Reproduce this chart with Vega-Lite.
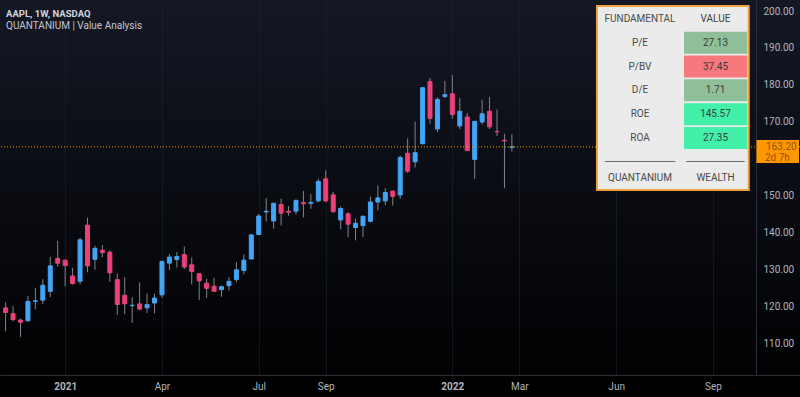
{
  "$schema": "https://vega.github.io/schema/vega-lite/v6.json",
  "width": 800,
  "height": 375,
  "autosize": {"type": "none"},
  "padding": {"left": 0, "top": 0, "right": 0, "bottom": 22},
  "background": "#000000",
  "config": {
    "font": "Roboto",
    "view": {"stroke": null, "fill": {"gradient": "linear", "x1": 0, "y1": 0, "x2": 0, "y2": 1, "stops": [{"offset": 0, "color": "#141824"}, {"offset": 1, "color": "#010102"}]}},
    "axis": {"labelFont": "Roboto", "labelColor": "#b2b5be", "labelFontSize": 10}
  },
  "title": {
    "text": "AAPL, 1W, NASDAQ",
    "subtitle": "QUANTANIUM | Value Analysis",
    "anchor": "start",
    "frame": "group",
    "orient": "top",
    "offset": -31,
    "dx": 6,
    "font": "Roboto",
    "fontSize": 9.5,
    "fontWeight": "bold",
    "color": "#d1d4dc",
    "subtitleFont": "Roboto",
    "subtitleFontSize": 10,
    "subtitleColor": "#c3c6ce",
    "subtitlePadding": 3
  },
  "datasets": {
    "candles": [
      {"date": "2020-11-09", "open": 119.60, "high": 121.08, "low": 113.28, "close": 118.37},
      {"date": "2020-11-16", "open": 118.04, "high": 120.09, "low": 115.94, "close": 116.47},
      {"date": "2020-11-23", "open": 116.31, "high": 116.74, "low": 111.75, "close": 115.72},
      {"date": "2020-11-30", "open": 116.10, "high": 122.86, "low": 115.94, "close": 121.34},
      {"date": "2020-12-07", "open": 121.40, "high": 125.01, "low": 119.26, "close": 121.50},
      {"date": "2020-12-14", "open": 121.69, "high": 127.36, "low": 120.64, "close": 125.72},
      {"date": "2020-12-21", "open": 124.09, "high": 133.41, "low": 122.53, "close": 130.99},
      {"date": "2020-12-28", "open": 132.99, "high": 137.76, "low": 130.74, "close": 131.70},
      {"date": "2021-01-04", "open": 132.53, "high": 132.62, "low": 125.44, "close": 131.07},
      {"date": "2021-01-11", "open": 128.23, "high": 130.47, "low": 125.92, "close": 126.19},
      {"date": "2021-01-18", "open": 126.83, "high": 138.63, "low": 126.00, "close": 138.04},
      {"date": "2021-01-25", "open": 142.01, "high": 144.01, "low": 129.24, "close": 130.98},
      {"date": "2021-02-01", "open": 132.75, "high": 136.40, "low": 129.96, "close": 135.74},
      {"date": "2021-02-08", "open": 135.22, "high": 136.64, "low": 133.37, "close": 134.57},
      {"date": "2021-02-15", "open": 134.69, "high": 135.20, "low": 126.65, "close": 129.10},
      {"date": "2021-02-22", "open": 127.25, "high": 128.95, "low": 117.69, "close": 120.54},
      {"date": "2021-03-01", "open": 123.01, "high": 127.96, "low": 117.91, "close": 120.70},
      {"date": "2021-03-08", "open": 120.21, "high": 122.48, "low": 115.52, "close": 120.31},
      {"date": "2021-03-15", "open": 120.69, "high": 126.46, "low": 118.97, "close": 119.28},
      {"date": "2021-03-22", "open": 119.62, "high": 123.50, "low": 118.21, "close": 120.49},
      {"date": "2021-03-29", "open": 120.93, "high": 123.44, "low": 118.15, "close": 122.27},
      {"date": "2021-04-05", "open": 123.13, "high": 132.25, "low": 122.34, "close": 132.21},
      {"date": "2021-04-12", "open": 131.73, "high": 134.20, "low": 129.85, "close": 133.36},
      {"date": "2021-04-19", "open": 132.72, "high": 134.72, "low": 130.52, "close": 133.52},
      {"date": "2021-04-26", "open": 134.03, "high": 136.26, "low": 130.11, "close": 130.68},
      {"date": "2021-05-03", "open": 131.26, "high": 133.27, "low": 125.95, "close": 129.44},
      {"date": "2021-05-10", "open": 128.86, "high": 128.99, "low": 121.73, "close": 126.91},
      {"date": "2021-05-17", "open": 126.28, "high": 127.46, "low": 122.34, "close": 124.90},
      {"date": "2021-05-24", "open": 125.47, "high": 127.77, "low": 124.02, "close": 124.08},
      {"date": "2021-05-31", "open": 124.55, "high": 125.62, "low": 122.61, "close": 125.35},
      {"date": "2021-06-07", "open": 125.63, "high": 127.91, "low": 124.30, "close": 126.81},
      {"date": "2021-06-14", "open": 127.28, "high": 131.99, "low": 126.53, "close": 129.91},
      {"date": "2021-06-21", "open": 129.75, "high": 134.07, "low": 128.66, "close": 132.54},
      {"date": "2021-06-28", "open": 132.84, "high": 139.41, "low": 132.78, "close": 139.37},
      {"date": "2021-07-05", "open": 139.47, "high": 145.03, "low": 139.30, "close": 144.49},
      {"date": "2021-07-12", "open": 145.59, "high": 149.36, "low": 143.02, "close": 145.77},
      {"date": "2021-07-19", "open": 143.14, "high": 148.09, "low": 141.07, "close": 147.93},
      {"date": "2021-07-26", "open": 147.64, "high": 149.19, "low": 141.93, "close": 145.24},
      {"date": "2021-08-02", "open": 145.74, "high": 147.21, "low": 144.56, "close": 145.52},
      {"date": "2021-08-09", "open": 145.80, "high": 149.03, "low": 144.90, "close": 148.69},
      {"date": "2021-08-16", "open": 148.13, "high": 151.26, "low": 144.10, "close": 147.78},
      {"date": "2021-08-23", "open": 147.90, "high": 150.45, "low": 146.43, "close": 148.19},
      {"date": "2021-08-30", "open": 148.59, "high": 154.56, "low": 148.20, "close": 153.88},
      {"date": "2021-09-06", "open": 154.55, "high": 156.83, "low": 148.29, "close": 148.56},
      {"date": "2021-09-13", "open": 150.22, "high": 151.01, "low": 145.36, "close": 145.66},
      {"date": "2021-09-20", "open": 143.41, "high": 147.07, "low": 140.88, "close": 146.52},
      {"date": "2021-09-27", "open": 145.07, "high": 145.56, "low": 138.73, "close": 142.26},
      {"date": "2021-10-04", "open": 141.37, "high": 143.82, "low": 137.89, "close": 142.51},
      {"date": "2021-10-11", "open": 141.88, "high": 144.50, "low": 138.82, "close": 144.44},
      {"date": "2021-10-18", "open": 143.06, "high": 149.77, "low": 142.77, "close": 148.28},
      {"date": "2021-10-25", "open": 148.27, "high": 152.75, "low": 146.01, "close": 149.39},
      {"date": "2021-11-01", "open": 148.58, "high": 152.01, "low": 147.40, "close": 150.87},
      {"date": "2021-11-08", "open": 151.22, "high": 151.38, "low": 147.29, "close": 149.80},
      {"date": "2021-11-15", "open": 150.18, "high": 160.81, "low": 149.15, "close": 160.34},
      {"date": "2021-11-22", "open": 161.47, "high": 165.49, "low": 156.16, "close": 156.61},
      {"date": "2021-11-29", "open": 159.17, "high": 170.08, "low": 157.60, "close": 161.63},
      {"date": "2021-12-06", "open": 164.08, "high": 179.40, "low": 163.81, "close": 179.22},
      {"date": "2021-12-13", "open": 180.89, "high": 181.90, "low": 169.47, "close": 170.92},
      {"date": "2021-12-20", "open": 168.06, "high": 176.62, "low": 167.25, "close": 176.05},
      {"date": "2021-12-27", "open": 176.86, "high": 181.10, "low": 176.38, "close": 177.34},
      {"date": "2022-01-03", "open": 177.60, "high": 182.71, "low": 170.81, "close": 171.95},
      {"date": "2022-01-10", "open": 168.86, "high": 176.39, "low": 167.95, "close": 172.85},
      {"date": "2022-01-17", "open": 171.29, "high": 172.32, "low": 162.09, "close": 162.20},
      {"date": "2022-01-24", "open": 159.82, "high": 170.13, "low": 154.50, "close": 170.11},
      {"date": "2022-01-31", "open": 169.94, "high": 176.01, "low": 169.29, "close": 172.17},
      {"date": "2022-02-07", "open": 172.86, "high": 176.65, "low": 168.04, "close": 168.64},
      {"date": "2022-02-14", "open": 167.37, "high": 173.34, "low": 166.19, "close": 167.30},
      {"date": "2022-02-21", "open": 164.98, "high": 166.69, "low": 152.00, "close": 164.85},
      {"date": "2022-02-28", "open": 163.06, "high": 166.60, "low": 161.97, "close": 163.20}
    ],
    "last": [{"price": 163.20, "label": "163.20", "countdown": "2d 7h"}],
    "fundamentals": [
      {"row": 0, "metric": "FUNDAMENTAL", "value": "VALUE", "rating": "header"},
      {"row": 1, "metric": "P/E", "value": "27.13", "rating": "fair"},
      {"row": 2, "metric": "P/BV", "value": "37.45", "rating": "poor"},
      {"row": 3, "metric": "D/E", "value": "1.71", "rating": "fair"},
      {"row": 4, "metric": "ROE", "value": "145.57", "rating": "strong"},
      {"row": 5, "metric": "ROA", "value": "27.35", "rating": "strong"},
      {"row": 6, "metric": "────────────", "value": "──────────", "rating": "divider"},
      {"row": 7, "metric": "QUANTANIUM", "value": "WEALTH", "rating": "footer"}
    ]
  },
  "layer": [
    {
      "data": {"name": "candles"},
      "layer": [
        {
          "mark": {"type": "rule", "color": "#80848e", "strokeWidth": 1},
          "encoding": {
            "x": {
              "field": "date", "type": "temporal",
              "scale": {"type": "utc", "domain": [1604831875000, 1669001673000]},
              "axis": {
                "title": null,
                "values": [
                  {"year": 2021, "month": 1, "date": 4, "utc": true},
                  {"year": 2021, "month": 4, "date": 5, "utc": true},
                  {"year": 2021, "month": 7, "date": 5, "utc": true},
                  {"year": 2021, "month": 9, "date": 6, "utc": true},
                  {"year": 2022, "month": 1, "date": 3, "utc": true},
                  {"year": 2022, "month": 3, "date": 7, "utc": true},
                  {"year": 2022, "month": 6, "date": 6, "utc": true},
                  {"year": 2022, "month": 9, "date": 5, "utc": true}
                ],
                "labelExpr": "utcmonth(datum.value) == 0 ? utcFormat(datum.value, '%Y') : utcFormat(datum.value, '%b')",
                "labelFontWeight": {"condition": {"test": "utcmonth(datum.value) == 0", "value": "bold"}, "value": "normal"},
                "grid": true,
                "gridColor": "#1e222d",
                "gridOpacity": 0.6,
                "ticks": false,
                "domainColor": "#2a2e39",
                "labelPadding": 6,
                "labelFlush": false,
                "labelOverlap": false
              }
            },
            "y": {
              "field": "low", "type": "quantitative",
              "scale": {"domain": [101.43, 202.98], "nice": false, "zero": false},
              "axis": {
                "title": null,
                "orient": "right",
                "offset": -44,
                "values": [110, 120, 130, 140, 150, 170, 180, 190, 200],
                "format": ".2f",
                "ticks": false,
                "grid": false,
                "labelPadding": 7,
                "labelAlign": "left",
                "domainColor": "#2a2e39"
              }
            },
            "y2": {"field": "high"}
          }
        },
        {
          "mark": {"type": "bar", "width": 4, "strokeWidth": 1},
          "encoding": {
            "x": {"field": "date", "type": "temporal"},
            "y": {"field": "open", "type": "quantitative"},
            "y2": {"field": "close"},
            "color": {"condition": {"test": "datum.close >= datum.open", "value": "#42a5f5"}, "value": "#ec407a"},
            "stroke": {"condition": {"test": "datum.close >= datum.open", "value": "#42a5f5"}, "value": "#ec407a"}
          }
        },
        {
          "data": {"name": "last"},
          "mark": {"type": "rule", "color": "#ff9800", "strokeWidth": 1, "strokeDash": [1, 2]},
          "encoding": {"y": {"field": "price", "type": "quantitative"}}
        },
        {
          "data": {"name": "last"},
          "mark": {"type": "rule", "color": "#ff9800", "strokeWidth": 23, "strokeCap": "butt", "yOffset": 4.5},
          "encoding": {
            "y": {"field": "price", "type": "quantitative"},
            "x": {"value": {"expr": "width - 43.5"}},
            "x2": {"value": {"expr": "width - 1"}}
          }
        },
        {
          "data": {"name": "last"},
          "mark": {"type": "text", "align": "left", "baseline": "middle", "fontSize": 10, "font": "Roboto", "color": "#94500a", "dy": -0.3},
          "encoding": {
            "y": {"field": "price", "type": "quantitative"},
            "x": {"value": {"expr": "width - 34"}},
            "text": {"field": "label"}
          }
        },
        {
          "data": {"name": "last"},
          "mark": {"type": "text", "align": "left", "baseline": "middle", "fontSize": 10, "font": "Roboto", "color": "#94500a", "dy": 11.3},
          "encoding": {
            "y": {"field": "price", "type": "quantitative"},
            "x": {"value": {"expr": "width - 35"}},
            "text": {"field": "countdown"}
          }
        }
      ]
    },
    {
      "data": {"name": "fundamentals"},
      "layer": [
        {
          "transform": [{"filter": "datum.row == 0"}],
          "mark": {"type": "rect", "fill": "#ebebeb", "stroke": "#f0a13c", "strokeWidth": 2},
          "encoding": {
            "x": {"datum": -0.57, "type": "quantitative", "scale": {"domain": [0, 1], "range": [640, 715.5], "nice": false, "zero": false}, "axis": null},
            "x2": {"datum": 1.44},
            "y": {"datum": -0.55, "type": "quantitative", "scale": {"domain": [0, 6], "range": [19, 161.7], "nice": false, "zero": false}, "axis": null},
            "y2": {"datum": 7.19}
          }
        },
        {
          "transform": [{"filter": "datum.row >= 1 && datum.row <= 5"}],
          "mark": {"type": "rule", "strokeWidth": 22, "strokeCap": "butt"},
          "encoding": {
            "x": {"datum": 0.583, "type": "quantitative", "scale": {"domain": [0, 1], "range": [640, 715.5], "nice": false, "zero": false}, "axis": null},
            "x2": {"datum": 1.421},
            "y": {"field": "row", "type": "quantitative", "scale": {"domain": [0, 6], "range": [19, 161.7], "nice": false, "zero": false}, "axis": null},
            "stroke": {"field": "rating", "type": "nominal", "scale": {"domain": ["fair", "poor", "strong"], "range": ["#8fbf98", "#f5787d", "#42f0aa"]}, "legend": null}
          }
        },
        {
          "transform": [{"filter": "datum.row <= 5"}],
          "mark": {"type": "text", "align": "center", "baseline": "middle", "fontSize": 10, "font": "Roboto", "color": "#4a4a4a"},
          "encoding": {
            "x": {"datum": 0, "type": "quantitative", "scale": {"domain": [0, 1], "range": [640, 715.5], "nice": false, "zero": false}, "axis": null},
            "y": {"field": "row", "type": "quantitative", "scale": {"domain": [0, 6], "range": [19, 161.7], "nice": false, "zero": false}, "axis": null},
            "text": {"field": "metric"}
          }
        },
        {
          "transform": [{"filter": "datum.row <= 5"}],
          "mark": {"type": "text", "align": "center", "baseline": "middle", "fontSize": 10, "font": "Roboto", "color": "#3c3c3c"},
          "encoding": {
            "x": {"datum": 1, "type": "quantitative", "scale": {"domain": [0, 1], "range": [640, 715.5], "nice": false, "zero": false}, "axis": null},
            "y": {"field": "row", "type": "quantitative", "scale": {"domain": [0, 6], "range": [19, 161.7], "nice": false, "zero": false}, "axis": null},
            "text": {"field": "value"}
          }
        },
        {
          "transform": [{"filter": "datum.row == 6"}],
          "mark": {"type": "text", "align": "center", "baseline": "middle", "fontSize": 9.7, "font": "DejaVu Sans Mono", "color": "#555555"},
          "encoding": {
            "x": {"datum": 0, "type": "quantitative", "scale": {"domain": [0, 1], "range": [640, 715.5], "nice": false, "zero": false}, "axis": null},
            "y": {"field": "row", "type": "quantitative", "scale": {"domain": [0, 6], "range": [19, 161.7], "nice": false, "zero": false}, "axis": null},
            "text": {"field": "metric"}
          }
        },
        {
          "transform": [{"filter": "datum.row == 6"}],
          "mark": {"type": "text", "align": "center", "baseline": "middle", "fontSize": 9.7, "font": "DejaVu Sans Mono", "color": "#555555"},
          "encoding": {
            "x": {"datum": 1, "type": "quantitative", "scale": {"domain": [0, 1], "range": [640, 715.5], "nice": false, "zero": false}, "axis": null},
            "y": {"field": "row", "type": "quantitative", "scale": {"domain": [0, 6], "range": [19, 161.7], "nice": false, "zero": false}, "axis": null},
            "text": {"field": "value"}
          }
        },
        {
          "transform": [{"filter": "datum.row == 7"}],
          "mark": {"type": "text", "align": "center", "baseline": "middle", "fontSize": 10, "font": "Roboto", "color": "#4a4a4a", "dy": -7},
          "encoding": {
            "x": {"datum": 0, "type": "quantitative", "scale": {"domain": [0, 1], "range": [640, 715.5], "nice": false, "zero": false}, "axis": null},
            "y": {"field": "row", "type": "quantitative", "scale": {"domain": [0, 6], "range": [19, 161.7], "nice": false, "zero": false}, "axis": null},
            "text": {"field": "metric"}
          }
        },
        {
          "transform": [{"filter": "datum.row == 7"}],
          "mark": {"type": "text", "align": "center", "baseline": "middle", "fontSize": 10, "font": "Roboto", "color": "#4a4a4a", "dy": -7},
          "encoding": {
            "x": {"datum": 1, "type": "quantitative", "scale": {"domain": [0, 1], "range": [640, 715.5], "nice": false, "zero": false}, "axis": null},
            "y": {"field": "row", "type": "quantitative", "scale": {"domain": [0, 6], "range": [19, 161.7], "nice": false, "zero": false}, "axis": null},
            "text": {"field": "value"}
          }
        }
      ]
    }
  ],
  "resolve": {"scale": {"x": "independent", "y": "independent", "stroke": "independent", "color": "independent"}}
}
